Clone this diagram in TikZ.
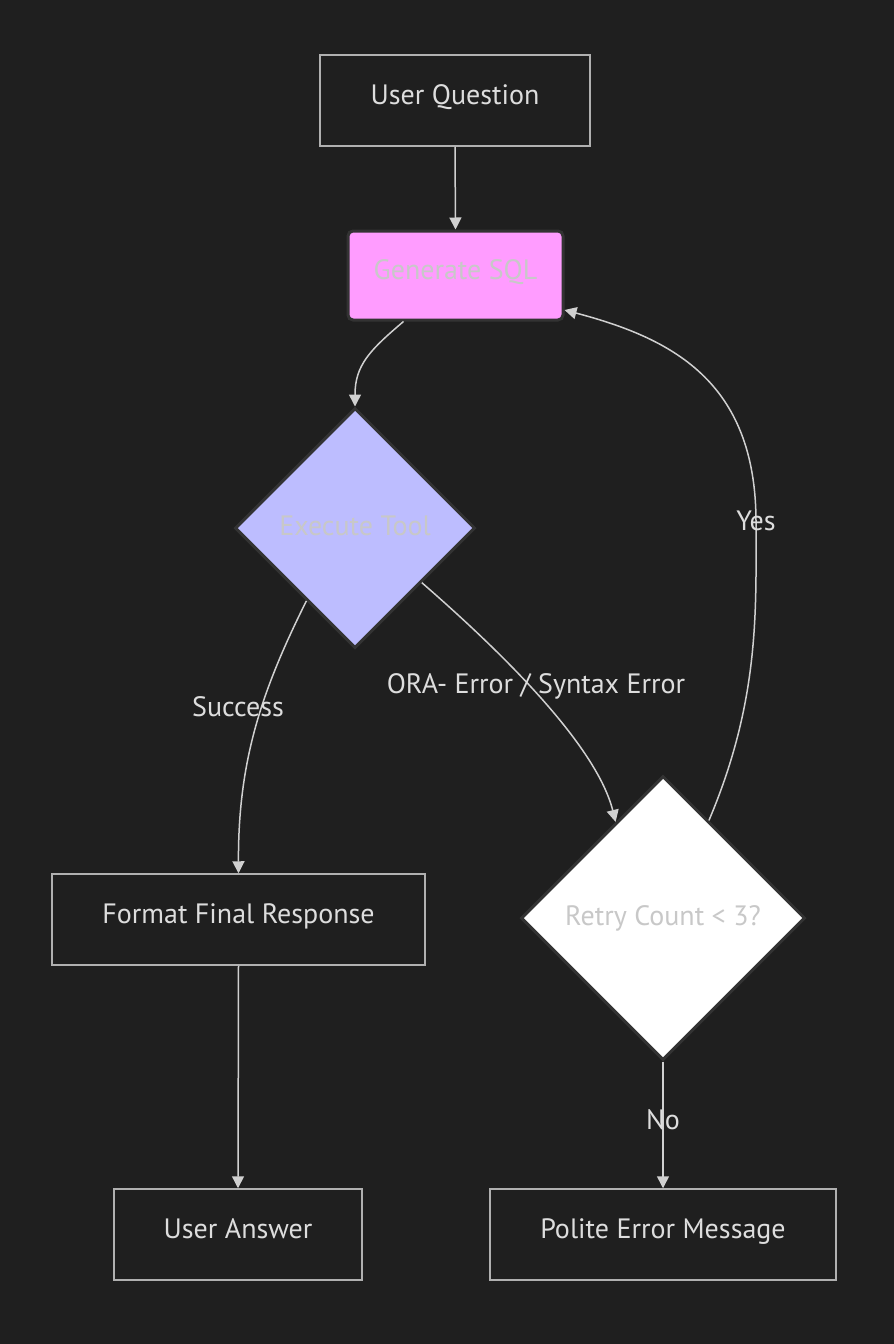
\documentclass[tikz,border=0pt]{standalone}
\usepackage{fontspec}
\setmainfont{PT Sans}
\usetikzlibrary{shapes.geometric,arrows.meta,calc}
\definecolor{bg}{HTML}{1F1F1F}
\definecolor{boxline}{HTML}{B0B0B0}
\definecolor{txt}{HTML}{DDDDDD}
\definecolor{dimtxt}{HTML}{C8C8C8}
\definecolor{edge}{HTML}{D0D0D0}
\definecolor{darkline}{HTML}{333333}
\definecolor{pinkfill}{HTML}{FF9CFF}
\definecolor{lavfill}{HTML}{BDBDFF}
\tikzset{
  tfont/.style={font=\fontsize{28}{33}\selectfont, text height=0.83em, text depth=0.12em},
  plainbox/.style={tfont, draw=boxline, line width=1.5pt, fill=bg, text=txt, minimum height=91pt, inner sep=0pt},
  pinkbox/.style={tfont, draw=darkline, line width=3pt, fill=pinkfill, rounded corners=5pt, text=dimtxt, minimum width=215pt, minimum height=89pt, inner sep=0pt},
  decide/.style={diamond, aspect=1, draw=darkline, line width=3pt, text=dimtxt, inner sep=0pt, font=\fontsize{28}{33}\selectfont},
  conn/.style={draw=edge, line width=1.5pt, -{Triangle[length=12pt,width=12pt]}},
  elabel/.style={tfont, text=txt, inner sep=0pt}
}
\begin{document}
\begin{tikzpicture}[x=1pt,y=-1pt]
\path[use as bounding box, fill=bg] (0,0) rectangle (894,1344);
\node[plainbox, minimum width=270pt] (uq) at (455,100.5) {User Question};
\node[pinkbox] (gs) at (455.5,275.5) {Generate SQL};
\node[decide, fill=lavfill, minimum width=240pt, minimum height=240pt] (et) at (355,528) {\raisebox{5pt}{Execute Tool}};
\node[decide, fill=white, minimum width=284pt, minimum height=284pt] (rc) at (663,918) {Retry Count < 3?};
\node[plainbox, minimum width=373pt] (ff) at (238.5,919.5) {Format Final Response};
\node[plainbox, minimum width=248pt] (ua) at (238,1234.5) {User Answer};
\node[plainbox, minimum width=346pt] (pe) at (663,1234.5) {Polite Error Message};

\draw[conn] (uq.south) -- (gs.north);
\draw[conn] ([xshift=-52pt]gs.south) .. controls (370,350) and (355,365) .. (et.north);
\draw[conn] ($(et.south)!0.4!(et.west)$) .. controls (262,690) and (238,760) .. (ff.north);
\draw[conn] ($(et.south)!0.55!(et.east)$) .. controls (520,668) and (598,752) .. ($(rc.north)!0.33!(rc.west)$);
\draw[conn] ($(rc.north)!0.32!(rc.east)$) .. controls (760,700) and (756,610) .. (756,522) .. controls (756,380) and (670,338) .. ([yshift=-34.5pt]gs.east);
\draw[conn] (ff.south) -- (ua.north);
\draw[conn] (rc.south) -- (pe.north);

\node[elabel] (l1) at (238,713) {Success};
\node[elabel] (l2) at (536,690) {ORA- Error / Syntax Error};
\node[elabel] (l3) at (756,527) {Yes};
\node[elabel] (l4) at (663,1126) {No};
\end{tikzpicture}
\end{document}
